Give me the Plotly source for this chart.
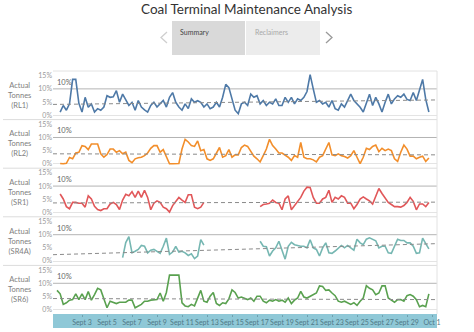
import pandas as pd
import plotly.graph_objects as go
from plotly.subplots import make_subplots

# ---- data -------------------------------------------------------------
# 6-hourly share of actual tonnes per machine, Sept 1 00:00 onwards
timestamps = pd.date_range("2023-09-01 00:00", periods=120, freq="6h")

units = ["RL1", "RL2", "SR1", "SR4A", "SR6"]
line_colors = ["#4e79a7", "#f28e2b", "#e15759", "#76b7b2", "#59a14f"]

rl1 = [None,
       1.2, 3.7, 1.9, 4.3, 13.6, 13.6, 4.5, 1.2, 6.8, 3.0, 4.3, 1.2,
       2.5, 1.9, 3.1, 7.4, 6.8, 7.0, 9.3, 4.9, 8.0, 5.6, 3.7, 4.9,
       1.9, 5.6, 3.1, 2.0, 1.2, 3.7, 4.9, 3.1, 4.5, 5.6, 3.1, 6.8,
       8.6, 4.9, 3.1, 1.9, 4.3, 2.5, 6.2, 4.9, 5.5, 4.9, 3.1, 4.3,
       2.5, 3.1, 4.9, 3.1, 6.8, 11.7, 10.5, 5.6, 1.9, 0.6, 4.3, 4.9,
       3.7, 8.0, 6.8, 7.4, 4.3, 5.6, 3.7, 4.9, 4.3, 6.2, 3.7, 3.7,
       6.8, 4.9, 6.8, 4.3, 6.2, 5.6, 6.8, 9.0, 15.4, 10.0, 4.9, 5.6,
       4.3, 4.9, 3.1, 5.6, 2.5, 1.9, 4.3, 3.1, 5.6, 8.0, 5.6, 4.3,
       3.0, 1.2, 4.3, 8.0, 3.7, 6.8, 4.3, 1.2, 4.9, 8.0, 4.3, 6.2,
       7.4, 6.8, 8.0, 6.0, 5.6, 8.6, 5.6, 9.5, 13.6, 6.0, 1.2]

rl2 = [None,
       0.1, 0.0, 0.2, 2.4, 1.9, 4.1, 4.4, 6.9, 6.6, 5.4, 7.5, 7.5,
       7.5, 3.8, 2.5, 3.5, 5.6, 5.6, 4.4, 5.0, 3.8, 4.4, 1.3, 0.4,
       1.9, 2.3, 2.5, 3.1, 4.1, 5.9, 6.9, 6.9, 4.4, 5.4, 2.9, 0.0,
       0.0, 0.0, 0.1, 5.6, 9.3, 8.3, 6.9, 6.6, 8.7, 5.0, 5.4, 1.9,
       1.3, 1.9, 4.1, 6.2, 2.5, 3.1, 5.4, 2.5, 3.4, 3.4, 6.2, 7.1,
       6.6, 4.6, 2.9, 1.9, 0.7, 3.1, 5.6, 9.3, 6.9, 5.6, 4.1, 4.1,
       3.4, 2.5, 1.3, 3.1, 2.5, 8.1, 2.5, 1.9, 1.9, 1.5, 0.7, 2.5,
       3.1, 5.4, 8.1, 3.4, 3.1, 3.8, 3.1, 2.8, 2.2, 3.1, 5.0, 2.5,
       0.1, 2.5, 5.9, 5.4, 6.6, 7.1, 4.6, 5.9, 5.0, 5.6, 5.0, 1.9,
       0.9, 4.4, 7.1, 5.6, 2.9, 2.9, 1.9, 2.5, 2.9, 0.9, 2.2]

sr1 = [None,
       7.0, 5.1, 2.2, 1.4, 3.8, 3.8, 3.5, 3.5, 2.0, 6.3, 5.1, 2.3,
       1.1, 0.7, 1.4, 1.4, 3.2, 3.8, 3.0, 1.1, 4.7, 6.9, 6.3, 7.9,
       5.7, 8.1, 5.7, 8.4, 5.7, 1.0, 3.5, 4.4, 3.8, 2.0, 1.4, 0.1,
       2.6, 4.2, 5.7, 4.7, 3.8, 6.7, 6.7, 2.0, 1.4, 2.0, 3.8, None,
       None, None, None, None, None, None, None, None,
       None, None, None, None, None, None, None, None,
       2.2, 3.0, 3.2, 3.5, 4.7, 3.8, 3.5, 1.0, 5.1, 6.3, 1.0, 2.6,
       3.8, 5.7, 8.1, 9.6, 9.5, 5.7, 3.5, 3.5, 5.1, 5.7, 8.4, 3.8,
       5.7, 5.1, 6.3, 5.7, 3.5, 3.5, 1.4, 3.0, 5.1, 5.9, 5.1, 4.4,
       3.2, 6.3, 9.1, 7.2, 5.7, 3.8, 3.0, 2.2, 2.2, 2.0, 2.6, 3.8,
       5.7, 4.2, 1.0, 3.2, 3.2, 2.2, 3.8]

sr4a = [None,
        None, None, None, None, None, None, None, None, None, None,
        None, None, None, None, None, None, None, None, None, None,
        1.3, 7.0, 9.3, 3.1, 3.7, 4.4, 5.9, 5.6, 3.1, 4.1, 4.4, 3.7,
        2.9, 5.6, 8.7, 2.5, 3.4, 5.6, 3.4, 3.7, 3.1, 2.1, 2.7, 0.9,
        1.9, 8.1, 6.0, None,
        None, None, None, None, None, None, None, None,
        None, None, None, None, None, None, None, None,
        7.5, 5.6, 5.4, 1.9, 3.8, 5.0, 7.5, 3.8, 0.7, 5.6, 7.1, 6.2,
        5.9, 5.6, 5.6, 5.0, 8.1, 5.0, 4.4, 1.9, 5.0, 6.9, 3.1, 2.9,
        3.8, 5.0, 5.9, 5.0, 5.9, 5.0, 4.1, 8.3, 6.9, 6.2, 8.3, 8.8,
        8.3, 7.7, 5.0, 5.6, 5.6, 3.1, 2.9, 5.4, 8.3, 7.8, 7.8, 6.9,
        6.9, 5.6, 2.9, 3.1, 8.7, 6.6, 4.6]

sr6 = [7.3,
       6.0, 2.0, 2.6, 3.6, 3.8, 6.0, 3.8, 6.0, 3.8, 6.9, 3.6, 5.7,
       8.1, 7.5, 3.8, 0.7, 3.2, 2.6, 2.3, 2.8, 2.8, 2.8, 3.6, 3.6,
       0.7, 1.4, 2.0, 3.2, 3.2, 3.6, 3.8, 3.8, 6.3, 3.2, 6.5, 13.1,
       13.1, 13.1, 13.1, 2.6, 1.4, 1.1, 2.0, 1.4, 4.4, 7.3, 3.2, 2.8,
       5.1, 6.5, 2.3, 1.6, 2.6, 2.3, 4.1, 7.5, 6.5, 4.4, 4.8, 4.4,
       3.8, 4.4, 3.2, 5.1, 5.1, 3.2, 2.6, 3.6, 3.2, 3.8, 3.2, 3.6,
       2.8, 4.4, 2.3, 3.6, 4.4, 6.9, 4.8, 4.4, 5.1, 5.7, 6.3, 9.0,
       8.8, 7.3, 7.5, 6.3, 5.3, 3.2, 2.8, 3.2, 2.6, 2.0, 2.6, 1.6,
       3.2, 4.4, 9.1, 8.1, 7.5, 5.7, 6.3, 9.0, 9.0, 4.4, 3.6, 2.8,
       3.8, 3.8, 3.2, 5.3, 5.7, 5.1, 3.8, 1.1, 1.6, 1.1, 6.0]

series = [rl1, rl2, sr1, sr4a, sr6]

# linear trend per machine, value at the left and right edge of the axis
trend_start = [4.1, 3.8, 3.6, 2.4, 4.2]
trend_end = [5.8, 3.4, 3.9, 6.6, 3.8]

reference_level = 10
y_ticks = [0, 5, 10, 15]
y_tick_labels = ["0%", "5%", "10%", "15%"]

x_tick_dates = pd.date_range("2023-09-03", "2023-10-01", freq="2D")
x_tick_labels = ["Sept 3", "Sept 5", "Sept 7", "Sept 9", "Sept 11", "Sept 13",
                 "Sept 15", "Sept 17", "Sept 19", "Sept 21", "Sept 23",
                 "Sept 25", "Sept 27", "Sept 29", "Oct 1"]

x_start = pd.Timestamp("2023-09-01") - pd.Timedelta(hours=7.7)
x_end = pd.Timestamp("2023-09-01") + pd.Timedelta(days=30.4)

# ---- figure -----------------------------------------------------------
W, H = 474, 332
ML, MR, MT, MB = 53, 37, 71, 18
PW, PH = W - ML - MR, H - MT - MB


def px(x):
    return (x - ML) / PW


def py(y):
    return (H - MB - y) / PH


FONT = "Lato, 'Open Sans', sans-serif"
n = len(units)

fig = make_subplots(rows=n, cols=1, shared_xaxes=True, vertical_spacing=0)

for i, (unit, vals, col) in enumerate(zip(units, series, line_colors), start=1):
    fig.add_trace(go.Scatter(
        x=timestamps, y=vals, mode="lines", connectgaps=False,
        line=dict(color=col, width=1.6), hoverinfo="skip", showlegend=False,
    ), row=i, col=1)
    fig.add_trace(go.Scatter(
        x=[x_start, x_end], y=[trend_start[i - 1], trend_end[i - 1]],
        mode="lines", line=dict(color="#8a8a8a", width=1, dash="4px,3px"),
        hoverinfo="skip", showlegend=False,
    ), row=i, col=1)

    yref = "y" if i == 1 else f"y{i}"
    # reference line at 10%
    fig.add_shape(type="line", xref="paper", x0=0, x1=1, yref=yref,
                  y0=reference_level, y1=reference_level,
                  line=dict(color="#b4b4b4", width=1), layer="below")
    fig.add_annotation(xref="paper", x=0, xanchor="left", xshift=2,
                       yref=yref, y=reference_level, yanchor="bottom",
                       text=f"{reference_level}%", showarrow=False,
                       font=dict(family=FONT, size=7.5, color="#666666"))
    # row header
    fig.add_annotation(xref="paper", x=px(19), xanchor="center",
                       yref=f"{yref} domain", y=0.5, yanchor="middle",
                       text=f"Actual<br>Tonnes<br>({unit})", showarrow=False,
                       align="center",
                       font=dict(family=FONT, size=7.5, color="#808080"))
    fig.update_yaxes(range=[-1.67, 16.8], tickvals=y_ticks,
                     ticktext=y_tick_labels, showgrid=False,
                     zeroline=True, zerolinecolor="#e4e4e4", zerolinewidth=1,
                     showline=False, ticks="", automargin=False,
                     tickfont=dict(family=FONT, size=7, color="#9a9a9a"),
                     fixedrange=True, row=i, col=1)

# row separators and frame
for k in range(1, n):
    fig.add_shape(type="line", xref="paper", x0=px(3), x1=1,
                  yref="paper", y0=k / n, y1=k / n,
                  line=dict(color="#dcdcdc", width=1))
fig.add_shape(type="line", xref="paper", x0=0, x1=1, yref="paper",
              y0=1, y1=1, line=dict(color="#e2e2e2", width=1))
fig.add_shape(type="line", xref="paper", x0=1, x1=1, yref="paper",
              y0=0, y1=1, line=dict(color="#e2e2e2", width=1))

# date axis band
fig.add_shape(type="rect", xref="paper", x0=0, x1=1, yref="paper",
              y0=py(328), y1=0, fillcolor="#8fc8d7", line=dict(width=0),
              layer="below")

fig.update_xaxes(range=[x_start, x_end], showgrid=False, zeroline=False,
                 showline=False, showticklabels=False, ticks="",
                 automargin=False, fixedrange=True)
fig.update_xaxes(row=n, col=1, showticklabels=True, tickvals=x_tick_dates,
                 ticktext=x_tick_labels, ticks="outside", ticklen=2,
                 tickangle=0, tickcolor="#6f9fae", tickwidth=1,
                 tickfont=dict(family=FONT, size=7, color="#4f7886"))

# dashboard title and navigator
fig.add_annotation(xref="paper", yref="paper", x=px(246), y=py(9),
                   text="Coal Terminal Maintenance Analysis", showarrow=False,
                   xanchor="center", yanchor="middle",
                   font=dict(family=FONT, size=13.5, color="#333333"))
fig.add_shape(type="rect", xref="paper", yref="paper", x0=px(172), x1=px(245),
              y0=py(55), y1=py(21), fillcolor="#d9d9d9", line=dict(width=0))
fig.add_shape(type="rect", xref="paper", yref="paper", x0=px(246), x1=px(320),
              y0=py(55), y1=py(21), fillcolor="#ececec", line=dict(width=0))
fig.add_annotation(xref="paper", yref="paper", x=px(178), y=py(31.5),
                   text="Summary", showarrow=False, xanchor="left",
                   yanchor="middle",
                   font=dict(family=FONT, size=7, color="#444444"))
fig.add_annotation(xref="paper", yref="paper", x=px(253), y=py(31.5),
                   text="Reclaimers", showarrow=False, xanchor="left",
                   yanchor="middle",
                   font=dict(family=FONT, size=7, color="#a8a8a8"))
fig.add_shape(type="path", xref="paper", yref="paper",
              path=f"M {px(167)} {py(32)} L {px(161)} {py(37.5)} L {px(167)} {py(43)}",
              line=dict(color="#cfcfcf", width=1.3))
fig.add_shape(type="path", xref="paper", yref="paper",
              path=f"M {px(326)} {py(32)} L {px(332)} {py(37.5)} L {px(326)} {py(43)}",
              line=dict(color="#9a9a9a", width=1.3))

fig.update_layout(width=W, height=H, autosize=False,
                  margin=dict(l=ML, r=MR, t=MT, b=MB, autoexpand=False),
                  paper_bgcolor="white", plot_bgcolor="white",
                  hovermode=False, font=dict(family=FONT))

fig.write_html("out.html", config={"displayModeBar": False, "staticPlot": True})
